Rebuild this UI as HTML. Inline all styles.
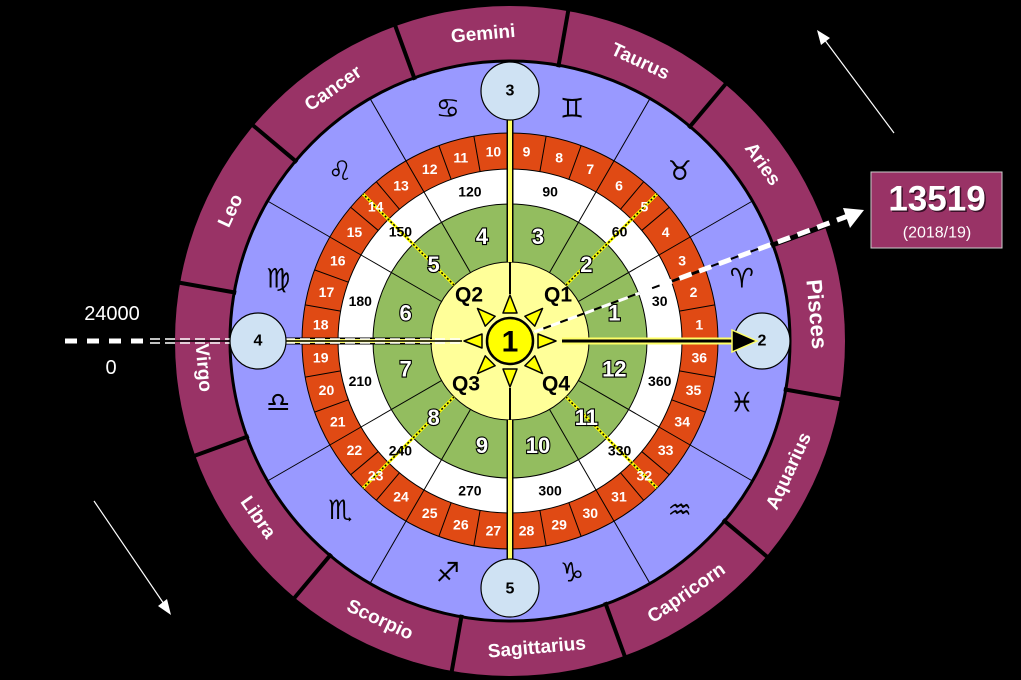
<!DOCTYPE html>
<html><head><meta charset="utf-8"><style>
html,body{margin:0;padding:0;background:#000;}
svg{display:block;}
text{font-family:"Liberation Sans","DejaVu Sans",sans-serif;}
.rn{fill:#fff;font-weight:bold;font-size:14px;text-anchor:middle;dominant-baseline:central;}
.wn{fill:#000;font-weight:bold;font-size:14px;text-anchor:middle;dominant-baseline:central;}
.gn{fill:#fff;stroke:#000;stroke-width:2.2px;paint-order:stroke;font-weight:bold;font-size:22px;text-anchor:middle;dominant-baseline:central;}
.sg{fill:#fff;font-weight:bold;font-size:19px;text-anchor:middle;dominant-baseline:central;}
.gl{fill:#000;font-family:"DejaVu Sans",sans-serif;font-size:27px;text-anchor:middle;dominant-baseline:central;}
</style></head><body>
<svg width="1021" height="680" viewBox="0 0 1021 680" xmlns="http://www.w3.org/2000/svg">
<rect width="1021" height="680" fill="#000"/>
<circle cx="510" cy="341" r="335" fill="#993366"/>
<circle cx="510" cy="341" r="280" fill="#9999ff" stroke="#000" stroke-width="3"/>
<circle cx="510" cy="341" r="208" fill="#e04a14" stroke="#000" stroke-width="1"/>
<circle cx="510" cy="341" r="172" fill="#fff" stroke="#000" stroke-width="1"/>
<circle cx="510" cy="341" r="137" fill="#93bd5f" stroke="#000" stroke-width="1"/>
<circle cx="510" cy="341" r="79" fill="#ffff99" stroke="#000" stroke-width="1"/>
<g stroke="#000" stroke-width="4">
<line x1="788" y1="341" x2="846" y2="341" transform="rotate(-20 510 341)"/>
<line x1="788" y1="341" x2="846" y2="341" transform="rotate(-50 510 341)"/>
<line x1="788" y1="341" x2="846" y2="341" transform="rotate(-80 510 341)"/>
<line x1="788" y1="341" x2="846" y2="341" transform="rotate(-110 510 341)"/>
<line x1="788" y1="341" x2="846" y2="341" transform="rotate(-140 510 341)"/>
<line x1="788" y1="341" x2="846" y2="341" transform="rotate(-170 510 341)"/>
<line x1="788" y1="341" x2="846" y2="341" transform="rotate(-200 510 341)"/>
<line x1="788" y1="341" x2="846" y2="341" transform="rotate(-230 510 341)"/>
<line x1="788" y1="341" x2="846" y2="341" transform="rotate(-260 510 341)"/>
<line x1="788" y1="341" x2="846" y2="341" transform="rotate(-290 510 341)"/>
<line x1="788" y1="341" x2="846" y2="341" transform="rotate(-320 510 341)"/>
<line x1="788" y1="341" x2="846" y2="341" transform="rotate(-350 510 341)"/>
</g>
<g stroke="#000" stroke-width="1">
<line x1="718" y1="341" x2="789" y2="341" transform="rotate(-30 510 341)"/>
<line x1="718" y1="341" x2="789" y2="341" transform="rotate(-60 510 341)"/>
<line x1="718" y1="341" x2="789" y2="341" transform="rotate(-120 510 341)"/>
<line x1="718" y1="341" x2="789" y2="341" transform="rotate(-150 510 341)"/>
<line x1="718" y1="341" x2="789" y2="341" transform="rotate(-210 510 341)"/>
<line x1="718" y1="341" x2="789" y2="341" transform="rotate(-240 510 341)"/>
<line x1="718" y1="341" x2="789" y2="341" transform="rotate(-300 510 341)"/>
<line x1="718" y1="341" x2="789" y2="341" transform="rotate(-330 510 341)"/>
<line x1="589" y1="341" x2="682" y2="341" transform="rotate(-30 510 341)"/>
<line x1="589" y1="341" x2="682" y2="341" transform="rotate(-60 510 341)"/>
<line x1="589" y1="341" x2="682" y2="341" transform="rotate(-120 510 341)"/>
<line x1="589" y1="341" x2="682" y2="341" transform="rotate(-150 510 341)"/>
<line x1="589" y1="341" x2="682" y2="341" transform="rotate(-210 510 341)"/>
<line x1="589" y1="341" x2="682" y2="341" transform="rotate(-240 510 341)"/>
<line x1="589" y1="341" x2="682" y2="341" transform="rotate(-300 510 341)"/>
<line x1="589" y1="341" x2="682" y2="341" transform="rotate(-330 510 341)"/>
</g>
<g stroke="#000" stroke-width="1">
<line x1="682" y1="341" x2="718" y2="341" transform="rotate(0 510 341)"/>
<line x1="682" y1="341" x2="718" y2="341" transform="rotate(-10 510 341)"/>
<line x1="682" y1="341" x2="718" y2="341" transform="rotate(-20 510 341)"/>
<line x1="682" y1="341" x2="718" y2="341" transform="rotate(-30 510 341)"/>
<line x1="682" y1="341" x2="718" y2="341" transform="rotate(-40 510 341)"/>
<line x1="682" y1="341" x2="718" y2="341" transform="rotate(-50 510 341)"/>
<line x1="682" y1="341" x2="718" y2="341" transform="rotate(-60 510 341)"/>
<line x1="682" y1="341" x2="718" y2="341" transform="rotate(-70 510 341)"/>
<line x1="682" y1="341" x2="718" y2="341" transform="rotate(-80 510 341)"/>
<line x1="682" y1="341" x2="718" y2="341" transform="rotate(-90 510 341)"/>
<line x1="682" y1="341" x2="718" y2="341" transform="rotate(-100 510 341)"/>
<line x1="682" y1="341" x2="718" y2="341" transform="rotate(-110 510 341)"/>
<line x1="682" y1="341" x2="718" y2="341" transform="rotate(-120 510 341)"/>
<line x1="682" y1="341" x2="718" y2="341" transform="rotate(-130 510 341)"/>
<line x1="682" y1="341" x2="718" y2="341" transform="rotate(-140 510 341)"/>
<line x1="682" y1="341" x2="718" y2="341" transform="rotate(-150 510 341)"/>
<line x1="682" y1="341" x2="718" y2="341" transform="rotate(-160 510 341)"/>
<line x1="682" y1="341" x2="718" y2="341" transform="rotate(-170 510 341)"/>
<line x1="682" y1="341" x2="718" y2="341" transform="rotate(-180 510 341)"/>
<line x1="682" y1="341" x2="718" y2="341" transform="rotate(-190 510 341)"/>
<line x1="682" y1="341" x2="718" y2="341" transform="rotate(-200 510 341)"/>
<line x1="682" y1="341" x2="718" y2="341" transform="rotate(-210 510 341)"/>
<line x1="682" y1="341" x2="718" y2="341" transform="rotate(-220 510 341)"/>
<line x1="682" y1="341" x2="718" y2="341" transform="rotate(-230 510 341)"/>
<line x1="682" y1="341" x2="718" y2="341" transform="rotate(-240 510 341)"/>
<line x1="682" y1="341" x2="718" y2="341" transform="rotate(-250 510 341)"/>
<line x1="682" y1="341" x2="718" y2="341" transform="rotate(-260 510 341)"/>
<line x1="682" y1="341" x2="718" y2="341" transform="rotate(-270 510 341)"/>
<line x1="682" y1="341" x2="718" y2="341" transform="rotate(-280 510 341)"/>
<line x1="682" y1="341" x2="718" y2="341" transform="rotate(-290 510 341)"/>
<line x1="682" y1="341" x2="718" y2="341" transform="rotate(-300 510 341)"/>
<line x1="682" y1="341" x2="718" y2="341" transform="rotate(-310 510 341)"/>
<line x1="682" y1="341" x2="718" y2="341" transform="rotate(-320 510 341)"/>
<line x1="682" y1="341" x2="718" y2="341" transform="rotate(-330 510 341)"/>
<line x1="682" y1="341" x2="718" y2="341" transform="rotate(-340 510 341)"/>
<line x1="682" y1="341" x2="718" y2="341" transform="rotate(-350 510 341)"/>
</g>
<g>
<line x1="589" y1="341" x2="718" y2="341" stroke="#ffff00" stroke-width="3" transform="rotate(-45 510 341)"/>
<line x1="589" y1="341" x2="718" y2="341" stroke="#000" stroke-width="1.5" stroke-dasharray="2 2" transform="rotate(-45 510 341)"/>
<line x1="589" y1="341" x2="718" y2="341" stroke="#ffff00" stroke-width="3" transform="rotate(-135 510 341)"/>
<line x1="589" y1="341" x2="718" y2="341" stroke="#000" stroke-width="1.5" stroke-dasharray="2 2" transform="rotate(-135 510 341)"/>
<line x1="589" y1="341" x2="718" y2="341" stroke="#ffff00" stroke-width="3" transform="rotate(-225 510 341)"/>
<line x1="589" y1="341" x2="718" y2="341" stroke="#000" stroke-width="1.5" stroke-dasharray="2 2" transform="rotate(-225 510 341)"/>
<line x1="589" y1="341" x2="718" y2="341" stroke="#ffff00" stroke-width="3" transform="rotate(-315 510 341)"/>
<line x1="589" y1="341" x2="718" y2="341" stroke="#000" stroke-width="1.5" stroke-dasharray="2 2" transform="rotate(-315 510 341)"/>
</g>
<g>
<text class="rn" x="700" y="341" transform="rotate(-5 510 341) rotate(5 700 341)">1</text>
<text class="rn" x="700" y="341" transform="rotate(-15 510 341) rotate(15 700 341)">2</text>
<text class="rn" x="700" y="341" transform="rotate(-25 510 341) rotate(25 700 341)">3</text>
<text class="rn" x="700" y="341" transform="rotate(-35 510 341) rotate(35 700 341)">4</text>
<text class="rn" x="700" y="341" transform="rotate(-45 510 341) rotate(45 700 341)">5</text>
<text class="rn" x="700" y="341" transform="rotate(-55 510 341) rotate(55 700 341)">6</text>
<text class="rn" x="700" y="341" transform="rotate(-65 510 341) rotate(65 700 341)">7</text>
<text class="rn" x="700" y="341" transform="rotate(-75 510 341) rotate(75 700 341)">8</text>
<text class="rn" x="700" y="341" transform="rotate(-85 510 341) rotate(85 700 341)">9</text>
<text class="rn" x="700" y="341" transform="rotate(-95 510 341) rotate(95 700 341)">10</text>
<text class="rn" x="700" y="341" transform="rotate(-105 510 341) rotate(105 700 341)">11</text>
<text class="rn" x="700" y="341" transform="rotate(-115 510 341) rotate(115 700 341)">12</text>
<text class="rn" x="700" y="341" transform="rotate(-125 510 341) rotate(125 700 341)">13</text>
<text class="rn" x="700" y="341" transform="rotate(-135 510 341) rotate(135 700 341)">14</text>
<text class="rn" x="700" y="341" transform="rotate(-145 510 341) rotate(145 700 341)">15</text>
<text class="rn" x="700" y="341" transform="rotate(-155 510 341) rotate(155 700 341)">16</text>
<text class="rn" x="700" y="341" transform="rotate(-165 510 341) rotate(165 700 341)">17</text>
<text class="rn" x="700" y="341" transform="rotate(-175 510 341) rotate(175 700 341)">18</text>
<text class="rn" x="700" y="341" transform="rotate(-185 510 341) rotate(185 700 341)">19</text>
<text class="rn" x="700" y="341" transform="rotate(-195 510 341) rotate(195 700 341)">20</text>
<text class="rn" x="700" y="341" transform="rotate(-205 510 341) rotate(205 700 341)">21</text>
<text class="rn" x="700" y="341" transform="rotate(-215 510 341) rotate(215 700 341)">22</text>
<text class="rn" x="700" y="341" transform="rotate(-225 510 341) rotate(225 700 341)">23</text>
<text class="rn" x="700" y="341" transform="rotate(-235 510 341) rotate(235 700 341)">24</text>
<text class="rn" x="700" y="341" transform="rotate(-245 510 341) rotate(245 700 341)">25</text>
<text class="rn" x="700" y="341" transform="rotate(-255 510 341) rotate(255 700 341)">26</text>
<text class="rn" x="700" y="341" transform="rotate(-265 510 341) rotate(265 700 341)">27</text>
<text class="rn" x="700" y="341" transform="rotate(-275 510 341) rotate(275 700 341)">28</text>
<text class="rn" x="700" y="341" transform="rotate(-285 510 341) rotate(285 700 341)">29</text>
<text class="rn" x="700" y="341" transform="rotate(-295 510 341) rotate(295 700 341)">30</text>
<text class="rn" x="700" y="341" transform="rotate(-305 510 341) rotate(305 700 341)">31</text>
<text class="rn" x="700" y="341" transform="rotate(-315 510 341) rotate(315 700 341)">32</text>
<text class="rn" x="700" y="341" transform="rotate(-325 510 341) rotate(325 700 341)">33</text>
<text class="rn" x="700" y="341" transform="rotate(-335 510 341) rotate(335 700 341)">34</text>
<text class="rn" x="700" y="341" transform="rotate(-345 510 341) rotate(345 700 341)">35</text>
<text class="rn" x="700" y="341" transform="rotate(-355 510 341) rotate(355 700 341)">36</text>
</g>
<text class="wn" x="665" y="341" transform="rotate(-15 510 341) rotate(15 665 341)">30</text>
<text class="wn" x="665" y="341" transform="rotate(-45 510 341) rotate(45 665 341)">60</text>
<text class="wn" x="665" y="341" transform="rotate(-75 510 341) rotate(75 665 341)">90</text>
<text class="wn" x="665" y="341" transform="rotate(-105 510 341) rotate(105 665 341)">120</text>
<text class="wn" x="665" y="341" transform="rotate(-135 510 341) rotate(135 665 341)">150</text>
<text class="wn" x="665" y="341" transform="rotate(-165 510 341) rotate(165 665 341)">180</text>
<text class="wn" x="665" y="341" transform="rotate(-195 510 341) rotate(195 665 341)">210</text>
<text class="wn" x="665" y="341" transform="rotate(-225 510 341) rotate(225 665 341)">240</text>
<text class="wn" x="665" y="341" transform="rotate(-255 510 341) rotate(255 665 341)">270</text>
<text class="wn" x="665" y="341" transform="rotate(-285 510 341) rotate(285 665 341)">300</text>
<text class="wn" x="665" y="341" transform="rotate(-315 510 341) rotate(315 665 341)">330</text>
<text class="wn" x="665" y="341" transform="rotate(-345 510 341) rotate(345 665 341)">360</text>
<text class="gn" x="618" y="341" transform="rotate(-15 510 341) rotate(15 618 341)">1</text>
<text class="gn" x="618" y="341" transform="rotate(-45 510 341) rotate(45 618 341)">2</text>
<text class="gn" x="618" y="341" transform="rotate(-75 510 341) rotate(75 618 341)">3</text>
<text class="gn" x="618" y="341" transform="rotate(-105 510 341) rotate(105 618 341)">4</text>
<text class="gn" x="618" y="341" transform="rotate(-135 510 341) rotate(135 618 341)">5</text>
<text class="gn" x="618" y="341" transform="rotate(-165 510 341) rotate(165 618 341)">6</text>
<text class="gn" x="618" y="341" transform="rotate(-195 510 341) rotate(195 618 341)">7</text>
<text class="gn" x="618" y="341" transform="rotate(-225 510 341) rotate(225 618 341)">8</text>
<text class="gn" x="618" y="341" transform="rotate(-255 510 341) rotate(255 618 341)">9</text>
<text class="gn" x="618" y="341" transform="rotate(-285 510 341) rotate(285 618 341)">10</text>
<text class="gn" x="618" y="341" transform="rotate(-315 510 341) rotate(315 618 341)">11</text>
<text class="gn" x="618" y="341" transform="rotate(-345 510 341) rotate(345 618 341)">12</text>
<text class="gl" x="750" y="341" transform="rotate(-15 510 341) rotate(15 750 341)">♈︎</text>
<text class="gl" x="750" y="341" transform="rotate(-45 510 341) rotate(45 750 341)">♉︎</text>
<text class="gl" x="750" y="341" transform="rotate(-75 510 341) rotate(75 750 341)">♊︎</text>
<text class="gl" x="750" y="341" transform="rotate(-105 510 341) rotate(105 750 341)">♋︎</text>
<text class="gl" x="750" y="341" transform="rotate(-135 510 341) rotate(135 750 341)">♌︎</text>
<text class="gl" x="750" y="341" transform="rotate(-165 510 341) rotate(165 750 341)">♍︎</text>
<text class="gl" x="750" y="341" transform="rotate(-195 510 341) rotate(195 750 341)">♎︎</text>
<text class="gl" x="750" y="341" transform="rotate(-225 510 341) rotate(225 750 341)">♏︎</text>
<text class="gl" x="750" y="341" transform="rotate(-255 510 341) rotate(255 750 341)">♐︎</text>
<text class="gl" x="750" y="341" transform="rotate(-285 510 341) rotate(285 750 341)">♑︎</text>
<text class="gl" x="750" y="341" transform="rotate(-315 510 341) rotate(315 750 341)">♒︎</text>
<text class="gl" x="750" y="341" transform="rotate(-345 510 341) rotate(345 750 341)">♓︎</text>
<text class="sg" x="818" y="341" transform="rotate(-5 510 341) rotate(90 818 341)" style="font-size:22px">Pisces</text>
<text class="sg" x="818" y="341" transform="rotate(-35 510 341) rotate(90 818 341)">Aries</text>
<text class="sg" x="818" y="341" transform="rotate(-65 510 341) rotate(90 818 341)">Taurus</text>
<text class="sg" x="818" y="341" transform="rotate(-95 510 341) rotate(90 818 341)">Gemini</text>
<text class="sg" x="818" y="341" transform="rotate(-125 510 341) rotate(90 818 341)">Cancer</text>
<text class="sg" x="818" y="341" transform="rotate(-155 510 341) rotate(90 818 341)">Leo</text>
<text class="sg" x="818" y="341" transform="rotate(-185 510 341) rotate(-90 818 341)">Virgo</text>
<text class="sg" x="818" y="341" transform="rotate(-215 510 341) rotate(-90 818 341)">Libra</text>
<text class="sg" x="818" y="341" transform="rotate(-245 510 341) rotate(-90 818 341)">Scorpio</text>
<text class="sg" x="818" y="341" transform="rotate(-275 510 341) rotate(-90 818 341)">Sagittarius</text>
<text class="sg" x="818" y="341" transform="rotate(-305 510 341) rotate(-90 818 341)">Capricorn</text>
<text class="sg" x="818" y="341" transform="rotate(-335 510 341) rotate(-90 818 341)">Aquarius</text>
<line x1="510" y1="118" x2="510" y2="262" stroke="#000" stroke-width="7"/>
<line x1="510" y1="118" x2="510" y2="262" stroke="#ffff66" stroke-width="4"/>
<line x1="510" y1="262" x2="510" y2="294" stroke="#000" stroke-width="2"/>
<line x1="510" y1="420" x2="510" y2="560" stroke="#000" stroke-width="7"/>
<line x1="510" y1="420" x2="510" y2="560" stroke="#ffff66" stroke-width="4"/>
<line x1="510" y1="388" x2="510" y2="420" stroke="#000" stroke-width="2"/>
<line x1="286" y1="341" x2="432" y2="341" stroke="#000" stroke-width="7"/>
<line x1="286" y1="341" x2="432" y2="341" stroke="#ffff66" stroke-width="4"/>
<line x1="150" y1="341" x2="462" y2="341" stroke="#000" stroke-width="1.5"/>
<line x1="150" y1="339" x2="462" y2="339" stroke="#fff" stroke-width="1.5" stroke-dasharray="10 5"/>
<line x1="150" y1="343" x2="462" y2="343" stroke="#fff" stroke-width="1.5" stroke-dasharray="10 5"/>
<line x1="65" y1="341" x2="148" y2="341" stroke="#fff" stroke-width="5" stroke-dasharray="12 10"/>
<line x1="562" y1="341" x2="738" y2="341" stroke="#ffff66" stroke-width="7"/>
<line x1="562" y1="341" x2="738" y2="341" stroke="#000" stroke-width="3"/>
<line x1="534" y1="332" x2="852" y2="214" stroke="#000" stroke-width="2"/>
<line x1="534" y1="332" x2="640" y2="293" stroke="#fff" stroke-width="3" stroke-dasharray="10 8"/>
<line x1="640" y1="293" x2="848" y2="216" stroke="#fff" stroke-width="5" stroke-dasharray="13 8"/>
<polygon points="864,210 843,208 850,228" fill="#fff"/>
<g fill="#ffff00" stroke="#000" stroke-width="1.5" stroke-linejoin="round">
<polygon points="510,295 503,313 517,313"/>
<polygon points="510,295 503,313 517,313" transform="rotate(45 510 341)"/>
<polygon points="510,295 503,313 517,313" transform="rotate(90 510 341)"/>
<polygon points="510,295 503,313 517,313" transform="rotate(135 510 341)"/>
<polygon points="510,295 503,313 517,313" transform="rotate(180 510 341)"/>
<polygon points="510,295 503,313 517,313" transform="rotate(225 510 341)"/>
<polygon points="510,295 503,313 517,313" transform="rotate(270 510 341)"/>
<polygon points="510,295 503,313 517,313" transform="rotate(315 510 341)"/>
<circle cx="510" cy="341" r="23" stroke-width="2.5"/>
</g>
<text x="510" y="342" font-weight="bold" font-size="30" text-anchor="middle" dominant-baseline="central">1</text>
<g font-weight="bold" font-size="21" text-anchor="middle" dominant-baseline="central">
<text x="558" y="295">Q1</text><text x="469" y="295">Q2</text>
<text x="466" y="384">Q3</text><text x="556" y="384">Q4</text>
</g>
<g fill="#cfe2f3" stroke="#000" stroke-width="1.2">
<circle cx="510" cy="91" r="29"/>
<circle cx="258" cy="341" r="28"/>
<circle cx="762" cy="341" r="28"/>
<circle cx="510" cy="588" r="29"/>
</g>
<polygon points="757,341 732,330 732,352" fill="#000" stroke="#ffff66" stroke-width="1.5"/>
<g font-weight="bold" font-size="16" text-anchor="middle" dominant-baseline="central">
<text x="510" y="91">3</text><text x="258" y="341">4</text>
<text x="762" y="341">2</text><text x="510" y="589">5</text>
</g>
<text x="112" y="314" fill="#fff" font-size="20" text-anchor="middle" dominant-baseline="central">24000</text>
<text x="111" y="368" fill="#fff" font-size="20" text-anchor="middle" dominant-baseline="central">0</text>
<rect x="871" y="172" width="131" height="76" fill="#993366" stroke="#ccc" stroke-width="1"/>
<text x="937" y="199" fill="#3a1028" font-weight="bold" font-size="35" text-anchor="middle" dominant-baseline="central" transform="translate(1.5 1.5)">13519</text>
<text x="937" y="199" fill="#fff" font-weight="bold" font-size="35" text-anchor="middle" dominant-baseline="central">13519</text>
<text x="937" y="233" fill="#fff" font-size="16" text-anchor="middle" dominant-baseline="central">(2018/19)</text>
<line x1="894" y1="133" x2="824" y2="39" stroke="#fff" stroke-width="1.2"/>
<polygon points="817,30 821,45 830,38" fill="#fff"/>
<line x1="94" y1="501" x2="164" y2="604" stroke="#fff" stroke-width="1.2"/>
<polygon points="171,615 158,606 167,599" fill="#fff"/>
</svg>
</body></html>
